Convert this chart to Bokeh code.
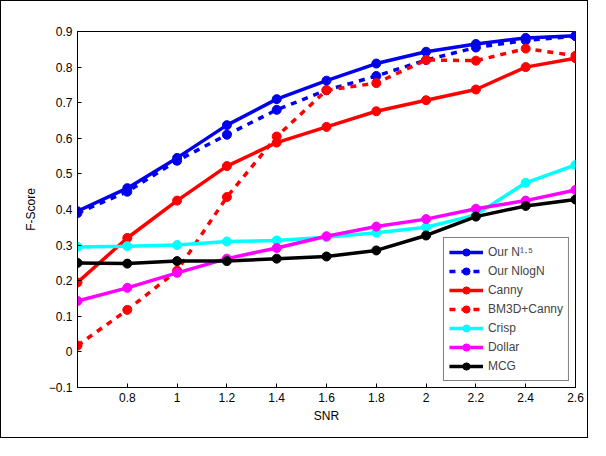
from bokeh.plotting import figure
from bokeh.embed import file_html
from bokeh.resources import INLINE
from bokeh.models import FixedTicker, Range1d

snr = [0.6, 0.8, 1.0, 1.2, 1.4, 1.6, 1.8, 2.0, 2.2, 2.4, 2.6]
our_n15 = [0.395, 0.46, 0.545, 0.637, 0.71, 0.762, 0.81, 0.843, 0.865, 0.882, 0.888]
our_nlogn = [0.39, 0.45, 0.537, 0.61, 0.68, 0.735, 0.775, 0.82, 0.855, 0.875, 0.887]
canny = [0.195, 0.32, 0.425, 0.522, 0.588, 0.632, 0.676, 0.707, 0.737, 0.8, 0.825]
bm3d = [0.018, 0.118, 0.228, 0.435, 0.605, 0.735, 0.755, 0.82, 0.818, 0.852, 0.832]
crisp = [0.295, 0.297, 0.3, 0.31, 0.313, 0.322, 0.335, 0.35, 0.385, 0.475, 0.525]
dollar = [0.143, 0.18, 0.222, 0.262, 0.292, 0.325, 0.352, 0.373, 0.402, 0.425, 0.455]
mcg = [0.25, 0.248, 0.255, 0.255, 0.262, 0.268, 0.285, 0.327, 0.38, 0.41, 0.428]
xticks = [0.8, 1.0, 1.2, 1.4, 1.6, 1.8, 2.0, 2.2, 2.4, 2.6]
yticks = [-0.1, 0, 0.1, 0.2, 0.3, 0.4, 0.5, 0.6, 0.7, 0.8, 0.9]

p = figure(width=588, height=438, output_backend="svg", toolbar_location=None,
           x_range=Range1d(0.6, 2.6), y_range=Range1d(-0.1, 0.9),
           min_border_left=76, min_border_right=14, min_border_top=30, min_border_bottom=52,
           x_axis_label="SNR", y_axis_label="F-Score")
p.styles = {"border": "1px solid black"}
p.grid.visible = False
p.outline_line_color = "black"
p.xaxis.ticker = FixedTicker(ticks=xticks)
p.yaxis.ticker = FixedTicker(ticks=yticks)
p.xaxis.major_label_overrides = {1.0: "1", 2.0: "2"}
p.yaxis.major_label_overrides = {0: "0"}
for ax in (p.xaxis, p.yaxis):
    ax.major_label_text_font = "Liberation Sans"
    ax.major_label_text_font_size = "12px"
    ax.major_label_text_color = "black"
    ax.axis_label_text_font = "Liberation Sans"
    ax.axis_label_text_font_size = "12px"
    ax.axis_label_text_color = "black"
    ax.axis_label_text_font_style = "normal"
    ax.minor_tick_line_color = None
    ax.major_tick_in = 4
    ax.major_tick_out = 0
p.xaxis.axis_label_standoff = 4
p.yaxis.axis_label_standoff = 8

series = [
    ("Our N\u00b9\u00b7\u2075", our_n15, "#0000ee", "solid"),
    ("Our NlogN", our_nlogn, "#0000ee", "dashed"),
    ("Canny", canny, "#ff0000", "solid"),
    ("BM3D+Canny", bm3d, "#ff0000", "dashed"),
    ("Crisp", crisp, "#00ffff", "solid"),
    ("Dollar", dollar, "#ff00ff", "solid"),
    ("MCG", mcg, "#000000", "solid"),
]
for name, ys, col, dash in series:
    p.line(snr, ys, line_color=col, line_width=3.5, line_dash=dash, legend_label=name)
    p.scatter(snr, ys, size=9, fill_color=col, line_color=col, legend_label=name)

p.legend.location = "bottom_right"
p.legend.border_line_color = "black"
p.legend.label_text_font = "Liberation Sans"
p.legend.label_text_font_size = "12px"
p.legend.spacing = 1
p.legend.padding = 5
p.legend.margin = 6
p.legend.label_height = 18
p.legend.glyph_height = 18
p.legend.glyph_width = 34

open("out.html", "w").write(file_html(p, INLINE))
